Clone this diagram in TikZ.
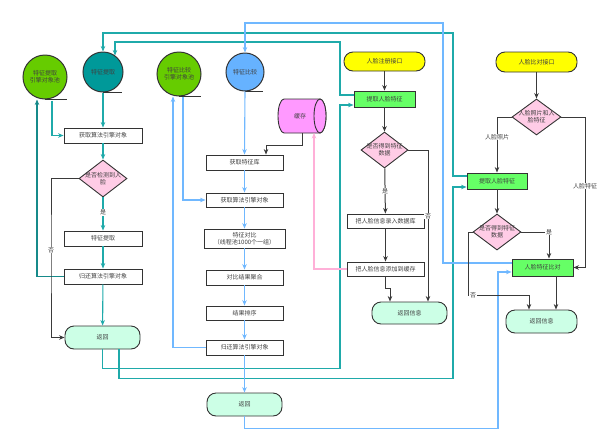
\documentclass[tikz,border=0pt]{standalone}
\usepackage{fontspec}
\newfontfamily\cjk{Noto Sans CJK SC}
\usetikzlibrary{arrows.meta,shapes.geometric,calc}
\definecolor{tealc}{HTML}{1FAAAA}
\definecolor{tealdk}{HTML}{168A8A}
\definecolor{bluec}{HTML}{70B8FF}
\definecolor{pinkl}{HTML}{FFB0D8}
\definecolor{grayl}{HTML}{3A3A3A}
\definecolor{boxb}{HTML}{333333}
\definecolor{txt}{HTML}{404040}
\definecolor{greenA}{HTML}{66CC00}
\definecolor{tealF}{HTML}{009999}
\definecolor{blueF}{HTML}{66B2FF}
\definecolor{greenB}{HTML}{66FF66}
\definecolor{yellowF}{HTML}{FFFF00}
\definecolor{mint}{HTML}{CCFFE6}
\definecolor{pinkD}{HTML}{FFCCE6}
\definecolor{cacheF}{HTML}{FF99FF}
\begin{document}
\begin{tikzpicture}[x=1pt,y=-1pt,
  font=\cjk\fontsize{6}{7.2}\selectfont,
  proc/.style={rectangle, draw=boxb, line width=0.9pt, fill=white, inner sep=0pt, text=txt, align=center},
  grn/.style={proc, fill=greenB},
  ret/.style={proc, rounded corners=9pt, fill=mint},
  iface/.style={proc, rounded corners=9pt, fill=yellowF},
  dia/.style={diamond, draw=boxb, line width=0.9pt, fill=pinkD, inner sep=0pt},
  dtext/.style={text=txt, align=center, inner sep=0pt},
  circ/.style={circle, draw=boxb, line width=1pt, inner sep=0pt, align=center, text=txt},
  tip/.style={-{Stealth[length=5.5pt,width=4.5pt]}},
  tl/.style={draw=tealc, line width=1.1pt, tip},
  tld/.style={draw=tealdk, line width=1.1pt, tip},
  bl/.style={draw=bluec, line width=1.1pt, tip},
  gl/.style={draw=grayl, line width=1pt, tip},
  pl/.style={draw=pinkl, line width=1.1pt, tip},
  lab/.style={fill=white, inner sep=0.6pt, text=txt},
  tail/.style={draw=boxb, line width=1pt}
]
\useasboundingbox (0,0) rectangle (600,445);

% ---------- circles ----------
\node[circ, fill=greenA, minimum size=44pt] (c1) at (45,77) {特征提取\\引擎对象池};
\node[circ, fill=tealF, minimum size=40pt] (c2) at (103,72) {特征提取};
\node[circ, fill=greenA, minimum size=44pt] (c3) at (179,74) {特征比较\\引擎对象池};
\node[circ, fill=blueF, minimum size=38pt] (c4) at (245,72) {特征比较};
\draw[tail] (c1.south) -- ++(22,0);
\draw[tail] (c2.south) -- ++(19,0);
\draw[tail] (c3.south) -- ++(22,0);
\draw[tail] (c4.south) -- ++(18,0);

% ---------- cache cylinder ----------
\draw[draw=boxb, line width=0.9pt, fill=cacheF] (320,99) -- (284,99)
  arc[start angle=270, end angle=90, x radius=6, y radius=17] -- (320,133)
  arc[start angle=90, end angle=-90, x radius=6, y radius=17] -- cycle;
\draw[draw=boxb, line width=0.9pt, fill=cacheF] (320,116) ellipse [x radius=6, y radius=17];
\node[dtext] (cache) at (300,116) {缓存};
\coordinate (cb) at (302,133);
\coordinate (cpk) at (314,133);

% ---------- left column ----------
\node[proc, minimum width=78pt, minimum height=15pt] (L1) at (103,135.5) {获取算法引擎对象};
\node[dia, minimum width=48pt, minimum height=37pt] (Ld) at (103,178.5) {};
\node[dtext] (Ldt) at (103,178.5) {是否检测到人\\脸};
\node[proc, minimum width=78pt, minimum height=15pt] (L2) at (103,238.5) {特征提取};
\node[proc, minimum width=78pt, minimum height=15pt] (L3) at (103,276.5) {归还算法引擎对象};
\node[ret, minimum width=75pt, minimum height=23pt] (Lr) at (102.5,337.5) {返回};

% ---------- middle column ----------
\node[proc, minimum width=77pt, minimum height=15pt] (M1) at (244.5,162.5) {获取特征库};
\node[proc, minimum width=77pt, minimum height=14pt] (M2) at (244.5,200) {获取算法引擎对象};
\node[proc, minimum width=81pt, minimum height=19pt] (M3) at (244.5,238.5) {特征对比\\（线程池1000个一组）};
\node[proc, minimum width=77pt, minimum height=15pt] (M4) at (244.5,277.5) {对比结果聚合};
\node[proc, minimum width=77pt, minimum height=14pt] (M5) at (244.5,313) {结果排序};
\node[proc, minimum width=77pt, minimum height=15pt] (M6) at (244.5,347.5) {归还算法引擎对象};
\node[ret, minimum width=75pt, minimum height=23pt] (Mr) at (244.5,404.5) {返回};

% ---------- registration column ----------
\node[iface, minimum width=81pt, minimum height=19pt] (R0) at (384.5,61.5) {人脸注册接口};
\node[grn, minimum width=61pt, minimum height=16pt] (R1) at (384.5,99) {提取人脸特征};
\node[dia, minimum width=47pt, minimum height=36pt] (Rd) at (384.5,150) {};
\node[dtext] (Rdt) at (384.5,150) {是否得到特征\\数据};
\node[proc, minimum width=77pt, minimum height=14pt] (R2) at (385.5,221) {把人脸信息录入数据库};
\node[proc, minimum width=77pt, minimum height=14pt] (R3) at (385.5,269) {把人脸信息添加到缓存};
\node[ret, minimum width=75pt, minimum height=22pt] (Rr) at (409.5,313) {返回信息};

% ---------- comparison column ----------
\node[iface, minimum width=81pt, minimum height=20pt] (C0) at (536.5,62) {人脸比对接口};
\node[dia, minimum width=49pt, minimum height=36pt] (Cd1) at (536.5,117) {};
\node[dtext] (Cd1t) at (536.5,117) {人脸照片和人\\脸特征};
\node[grn, minimum width=60pt, minimum height=16pt] (C1) at (497,181) {提取人脸特征};
\node[dia, minimum width=48pt, minimum height=36pt] (Cd2) at (497,232) {};
\node[dtext] (Cd2t) at (497,232) {是否得到特征\\数据};
\node[grn, minimum width=61pt, minimum height=17pt] (C2) at (542.5,267.5) {人脸特征比对};
\node[ret, minimum width=71pt, minimum height=23pt] (Cr) at (541.5,321.5) {返回信息};

% ---------- long teal / blue loops (drawn first) ----------
\draw[tl] ($(Lr.south)+(0,0)$) -- ++(0,19) -| (340,105) -- ($(R1.west)+(0,6)$);
\draw[tl] ($(Lr.south)+(16.5,0)$) -- ++(0,29) -| (453,187) -- ($(C1.west)+(0,6)$);
\draw[tl] ($(R1.west)+(0,-4)$) -| (340,42) -| ($(c2.north)+(12,4)$);
\draw[tl] ($(C1.west)+(0,-5)$) -| (453,33) -| (c2.north);
\draw[bl] (Mr.south) -- ++(0,12) -| (498,272) -- ($(C2.west)+(0,4.5)$);
\draw[bl] ($(C2.west)+(0,-4.5)$) -| (443,23) -| (c4.north);

% ---------- left column connectors ----------
\draw[tl] ($(c1.south)+(7,1)$) |- (L1.west);
\draw[tl] (c2.south) -- (L1.north);
\draw[tl] (L1) -- (Ld);
\draw[tl] (Ld) -- node[lab, pos=0.45] (lyes) {是} (L2);
\draw[tl] (L2) -- (L3);
\draw[tl] (L3) -- (Lr);
\draw[tld] (L3.west) -| ($(c1.south)+(-8,0)$);
\draw[gl] (Ld.west) -| (51,250) |- (Lr.west);
\node[lab] (lno) at (51,250) {否};

% ---------- middle column connectors ----------
\draw[bl] (c4.south) -- (M1.north);
\draw[bl] (M1) -- (M2);
\draw[bl] (M2) -- (M3);
\draw[bl] (M3) -- (M4);
\draw[bl] (M4) -- (M5);
\draw[bl] (M5) -- (M6);
\draw[bl] (M6) -- (Mr);
\draw[bl] (M6.west) -| ($(c3.south)+(-6,0)$);
\draw[bl] ($(c3.south)+(4,0)$) |- (M2.west);
\draw[gl] (cb) -- ++(0,12) -| ($(M1.north)+(21.5,0)$);
\draw[pl] (R3.west) -| (cpk);

% ---------- registration connectors ----------
\draw[gl] (R0) -- (R1);
\draw[gl] (R1) -- (Rd);
\draw[gl] (Rd) -- node[lab, pos=0.5] (ryes) {是} (R2);
\draw[gl] (R2) -- (R3);
\draw[gl] (R3.south) -- ++(0,12) -| ($(Rr.north)+(-19.5,0)$);
\draw[gl] (Rd.east) -| ($(Rr.north)+(18.5,0)$);
\node[lab] (rno) at (428,216) {否};

% ---------- comparison connectors ----------
\draw[gl] (C0) -- (Cd1);
\draw[gl] (Cd1.west) -| (C1.north);
\node[lab] (cphoto) at (497,137) {人脸照片};
\draw[gl] (Cd1.east) -| ($(C2.east)+(12,0)$) -- (C2.east);
\node[lab] (cfeat) at (585,186) {人脸特征};
\draw[gl] (C1) -- (Cd2);
\draw[gl] (Cd2.east) -| ($(C2.north)+(6.5,0)$);
\node[lab] (cyes) at (549,232) {是};
\draw[gl] (Cd2.west) -- ++(-4,0) -- ++(0,63) -| ($(Cr.north)+(-12.5,0)$);
\node[lab] (cno) at (473,295) {否};
\draw[gl] ($(C2.south)+(13.5,0)$) -- ($(Cr.north)+(14.5,0)$);
\end{tikzpicture}
\end{document}
